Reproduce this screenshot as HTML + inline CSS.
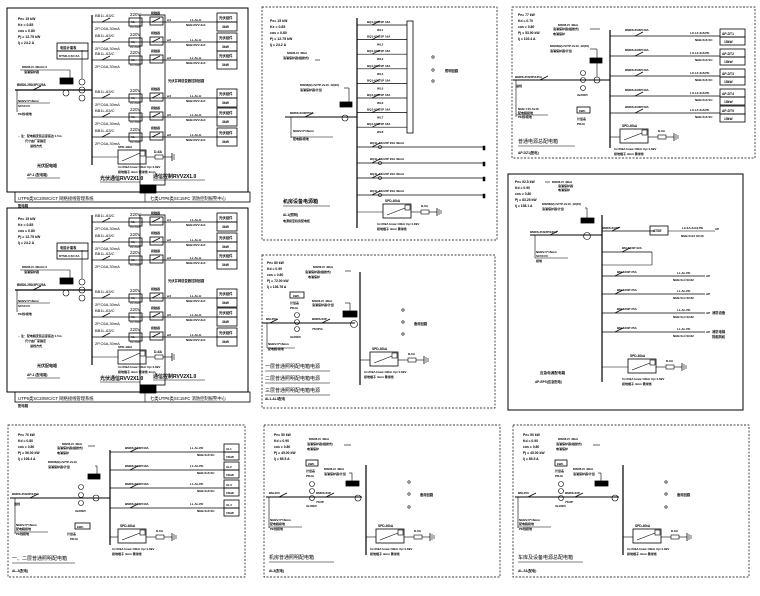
<!DOCTYPE html>
<html><head><meta charset="utf-8"><style>
html,body{margin:0;padding:0;background:#fff;width:760px;height:596px;overflow:hidden}
svg text{font-family:"Liberation Sans","Noto Sans CJK SC",sans-serif;fill:#000}
</style></head><body>
<svg id="s" width="760" height="596" viewBox="0 0 760 596" xmlns="http://www.w3.org/2000/svg"></svg>
<script>
var S=document.getElementById('s'),h='';
function L(x1,y1,x2,y2,w,c){h+='<line x1="'+x1+'" y1="'+y1+'" x2="'+x2+'" y2="'+y2+'" stroke="'+(c||'#000')+'" stroke-width="'+(w||0.6)+'"/>';}
function R(x,y,w,ht,sw,d,f){h+='<rect x="'+x+'" y="'+y+'" width="'+w+'" height="'+ht+'" fill="'+(f||'none')+'" stroke="#000" stroke-width="'+(sw||0.6)+'"'+(d?' stroke-dasharray="2,1.5"':'')+'/>';}
function T(x,y,s,z,b){h+='<text x="'+x+'" y="'+y+'" font-size="'+(z||3.5)+'"'+(b?' font-weight="bold"':'')+'>'+s+'</text>';}
function C(x,y,r){h+='<circle cx="'+x+'" cy="'+y+'" r="'+(r||3)+'" fill="none" stroke="#000" stroke-width="0.6"/>';}
function BR(x,y){L(x,y,x+8,y-4,0.7);}
function stats(x,y){var a=['Pe= 15 kW','Kx = 0.85','cos = 0.80','Pj = 12.75 kW','Ij = 24.2 A'];for(var i=0;i<5;i++)T(x,y+i*6,a[i],3.5,1);}
function spd(x,y,bx){L(bx,y,x,y);R(x,y-8,28,14,0.8);L(x+4,y+3,x+22,y-4);R(x+22,y-7,5,5);L(x+28,y,x+38,y);R(x+38,y-2,8,4);L(x+46,y,x+54,y);L(x+54,y-4,x+54,y+4,0.8);L(x+56,y-3,x+56,y+3);L(x+58,y-2,x+58,y+2);T(x+2,y-10,'SPD-40kA',3.2,1);T(x+38,y-5,'D-6A',3,1);T(x-6,y+13,'In=20kA Imax=40kA Up=1.8kV',3,1);T(x-6,y+18,'接地端子 4mm 黄绿线',3,1);}
function panelA(oy){
 R(7,8+oy,241,184,1);
 stats(18,20+oy);
 R(57,43+oy,31,8,0.8);R(57,51+oy,31,8,0.8);T(60,49+oy,'电能计量表',3.3,1);T(59,57+oy,'DTSD-0.5/1.5A',3,1);
 L(15,90+oy,92,90+oy,1.2);BR(33,90+oy);T(17,86+oy,'BMD6-250/3P/125A',3.2,1);
 L(20,70+oy,70,70+oy);L(70,70+oy,70,78+oy);T(22,68+oy,'MSD6-IV-40kA/1.5',3,1);T(24,73+oy,'浪涌保护器',3,1);
 R(60,78+oy,13,6,0.8,0,'#000');C(66,93+oy,3);C(82,82+oy,3);C(82,90+oy,3);C(82,98+oy,3);L(82,50+oy,82,79+oy);
 L(17,90+oy,17,112+oy);L(17,103+oy,50,103+oy);T(18,102+oy,'NHBV-5*16mm',3,1);T(18,107+oy,'SC50 FC',3,1);T(18,115+oy,'PE线/接地',3,1);
 T(18,137+oy,'-- 注：配电箱安装高度底边 1.5m',3,1);T(25,142+oy,'尺寸由厂家确定',3,1);T(30,147+oy,'进线方式',3,1);
 T(37,167+oy,'光伏配电箱',4,1);T(27,176+oy,'AP-1 (配电箱)',3.3,1);L(27,178+oy,60,178+oy);
 L(92,15+oy,92,165+oy,1.2);R(140,15+oy,25,170+oy<0?0:170,0.8);
 var ys=[22,42,60,98,117,137];
 for(var i=0;i<6;i++){var y=ys[i]+oy;L(92,y,217,y,0.8);BR(102,y);T(95,y-5,'BB1L-63/C',4);T(95,y+8,'2P,C6A,30mA',4);
  R(129,y-4,13,8,0.8);T(130,y-6,'220V',4.5);T(131,y+1,'ML',3);T(130,y+6,'10~63A',3);
  R(150,y-5,13,8,0.8);T(151,y-8,'接触器',3,1);BR(152,y);T(167,y-1,'w'+(i+1),3,1);
  T(190,y-1,'LL.AL.E',3,1);T(186,y+4,'NHB-RVV-3x4',3,1);R(217,y-9,20,9,0.8);R(217,y,20,9,0.8);T(219,y-3,'光伏组件',3.4,1);T(222,y+6,'3kW',3.4,1);}
 T(168,82+oy,'光伏并网逆变器控制回路',3.3,1);
 R(118,150+oy,28,14,0.8);L(122,161+oy,140,153+oy);R(140,151+oy,5,5);T(118,148+oy,'SPD-40kA',3,1);
 L(92,157+oy,118,157+oy);L(146,157+oy,155,157+oy);R(155,155+oy,8,4);L(163,157+oy,172,157+oy);L(172,153+oy,172,161+oy,0.8);L(174,154+oy,174,160+oy);T(154,153+oy,'D-6A',3.4,1);
 T(118,168+oy,'In=20kA Imax=40kA Up=1.8kV',3,1);T(118,173+oy,'接地端子 4mm 黄绿线 4mm',3,1);
 T(100,180+oy,'光伏通信RVV2X1.0',5,1);L(100,182+oy,140,182+oy);T(153,178+oy,'通信控制RVV2X1.0',5,1);L(153,180+oy,205,180+oy);
 R(140,185+oy,16,8,0.8,0,'#000');
 R(15,192+oy,235,10,0.8);L(145,192+oy,145,202+oy);T(18,200+oy,'UTP6类SC20WC/CT 网络接线管理系统',4.3);T(150,200+oy,'七类UTP6类SC15FC 消防控制报警中心',4.3);T(18,207+oy,'配电箱',3.4,1);
}
panelA(0);panelA(200);
// Panel B
R(262,7,235,233,0.7,1);stats(270,22);
T(287,54,'MSD6-IV 40kA',3,1);T(283,59,'浪涌保护器(插拔式)',3,1);L(315,60,320,60);
T(300,86,'MSD6(B)-IV/TP-2x10 ,12(20)',3,1);T(300,91,'浪涌保护器/计量',3,1);L(344,88,349,88);L(349,88,349,102);R(340,102,12,5,0.8,0,'#000');
L(285,117,357,117,1);BR(305,117);C(345,118,3);T(290,114,'BMD6-63/3P/50A',3,1);L(291,117,291,138);L(291,137,333,137);T(293,132,'NHBV-5*16mm',3,1);T(293,140,'配电箱/接地',3,1);
L(357,18,357,228,1.2);
for(var i=0;i<8;i++){var y=25+i*14.6;L(357,y,407,y,0.7);BR(372,y);T(367,y-2,'BQ1-63C/1P 16A',3,1);T(377,y+6,'WL'+(i+1),3,1);}
R(407,21,6,112,0.8);T(409,60,'',3);
C(433,57,1.2);C(433,70,1.2);C(433,81,1.2);T(445,72,'照明回路',3.3,1);
var yb=[147,163,178,195];for(var i=0;i<4;i++){L(357,yb[i],485,yb[i],0.7);BR(372,yb[i]);C(380,yb[i],1.5);T(370,yb[i]-3,'BQ1L-63C/2P 20A 30mA',3,1);R(483,yb[i]-1,2,4,0.5,0,'#000');}
spd(383,212,357);
T(283,203,'机房设备电源箱',5,1);L(283,206,330,206);T(283,216,'AL1(照明)',3.3,1);T(283,222,'电源接至机房配电柜',3,1);
// Panel C
R(262,255,233,153,0.7,1);
var st2=['Pe= 80 kW','Kd = 0.90','cos = 0.80','Pj = 72.00 kW','Ij = 136.76 A'];for(var i=0;i<5;i++)T(267,264+i*6,st2[i],3.4,1);
T(313,268,'MSD6-IV 40kA',3,1);T(305,273,'浪涌保护器(插拔式)',3,1);T(308,278,'电涌保护',3,1);L(345,271,351,271);
R(290,292,14,6,0.8,0,'#fff');T(293,297,'kWh',3,1);T(290,304,'计量表',3,1);T(290,309,'PDJA',3,1);C(297,315,2.5);C(297,322,2.5);C(297,329,2.5);T(290,338,'3x200/5',3,1);
T(312,302,'MSD6-IV 40kA',3,1);T(312,306,'浪涌保护器/计量',3,1);L(345,303,350,303);L(350,303,350,311);R(343,311,14,6,0.8,0,'#000');
L(262,323,355,323,1);BR(270,323);T(266,320,'BM-250',3,1);BR(322,323);T(312,320,'BMD6-63P',3,1);T(312,330,'75/3P/A',3,1);C(354,324,3.5);
L(267,323,267,348);L(267,348,295,348);T(268,345,'NHBV-5*16mm',3,1);T(268,350,'配电箱/接地',3,1);
L(360,272,360,385,1.2);C(403,310,1.2);C(403,322,1.2);C(403,334,1.2);T(414,325,'备用回路',3.3,1);
spd(370,360,360);
var tc=['一层普通照明配电箱电源','二层普通照明配电箱电源','三层普通照明配电箱电源'];for(var i=0;i<3;i++){T(265,368+i*12,tc[i],5);L(265,371+i*12,330,371+i*12);}
T(265,400,'AL1-AL3配电',3.3,1);
// Panel D
R(512,7,243,151,0.7,1);var st3=['Pe= 77 kW','Kd = 0.70','cos = 0.80','Pj = 53.90 kW','Ij = 102.4 A'];for(var i=0;i<5;i++)T(518,16+i*6,st3[i],3.4,1);
T(558,26,'MSD6-IV 40kA',3,1);T(553,30,'浪涌保护器(插拔式)',3,1);T(553,35,'电涌保护',3,1);L(590,29,600,29);
T(550,47,'MSD6(B)-IV/TP-2x10 ,12(20)',3,1);T(550,52,'浪涌保护器/计量',3,1);L(590,49,597,49);L(597,49,597,58);R(590,58,12,5,0.8,0,'#000');
L(513,80,610,80,1);BR(540,80);T(515,78,'BMD6-250/3P/125A',3,1);T(516,87,'进线',3,1);C(583,73,2.5);C(583,80,2.5);C(583,88,2.5);C(597,80,3);L(597,63,597,77);T(577,96,'3x200/5',3,1);
L(516,80,516,117);L(516,115,548,115);T(518,110,'NHB-YJV-5x16',3,1);T(518,114,'配电箱接地',3,1);T(518,118,'PE线/接地',3,1);R(577,107,13,6,0.8);T(579,112,'kWh',3,1);T(577,120,'计量表',3,1);T(577,125,'PDJA',3,1);
L(610,30,610,148,1.2);
var yd=[36,56,76,96,113];var nd=['AP-DT1','AP-DT2','AP-DT3','AP-DT4','AP-DT5'];
for(var i=0;i<5;i++){var y=yd[i];L(610,y,720,y,0.7);BR(635,y);T(625,y-5,'BMD6-63/3P/40A',3,1);T(690,y-2,'LU.LZ-3x6.PE',3,1);T(695,y+5,'NHB-5x6 SC',3,1);R(720,y-7,25,8,0.8);R(720,y+1,25,8,0.8);T(722,y-1,nd[i],3.3,1);T(724,y+7,'15kW',3.3,1);}
spd(620,137,610);T(518,143,'普通电源总配电箱',5);L(518,146,575,146);T(518,154,'AP-DZ1(配电)',3.3,1);
// Panel E
R(508,174,235,236,1);var st4=['Pe= 92.5 kW','Kd = 0.90','cos = 0.80','Pj = 83.25 kW','Ij = 158.1 A'];for(var i=0;i<5;i++)T(515,183+i*6,st4[i],3.4,1);
T(552,183,'MSD6-IV 40kA',3,1);T(558,187,'浪涌保护器',3,1);T(558,191,'电涌保护',3,1);L(545,182,550,182);
T(542,205,'MSD6(B)-IV/TP-2x10 ,12(20)',3,1);T(542,210,'浪涌保护器/计量',3,1);L(585,208,587,208);L(587,208,587,218);R(581,218,13,5,0.8,0,'#000');
L(530,235,602,235,1);BR(550,235);T(530,233,'BMD6-250/3P/160A',3,1);C(587,236,3.5);L(535,235,535,258);L(535,258,568,258);T(536,253,'NHBV-5*16mm',3,1);T(536,257,'SC50 FC',3,1);T(536,262,'接地',3,1);
L(602,215,602,382,1.2);
L(602,231,655,231,0.7);BR(612,231);T(602,229,'BMD6-63/3P',3,1);R(650,226,18,9,0.8);T(653,232,'ATSE',3.3,1);L(668,231,715,231);T(682,229,'LZ-ZA-5x10.PE',3,1);T(681,237,'NHB-5x10 SC40',3,1);T(715,230,'AP',3,1);
L(602,252,652,252,0.7);L(652,252,652,265);L(602,265,652,265);BR(622,252);T(622,249,'BM-63/3P 32A',3,1);
var ye=[276,294,313,332];for(var i=0;i<4;i++){var y=ye[i];L(602,y,705,y,0.7);BR(615,y);T(617,y-3,'BM-63/3P 25A',3,1);T(677,y-2,'LL.AL.PE',3,1);T(673,y+5,'NHB-5x4 SC32',3,1);T(706,y+1,'AP',3,1);}
T(712,314,'消防设备',3.3,1);T(712,333,'消防电梯',3.3,1);T(712,338,'排烟风机',3.3,1);
spd(628,367,602);T(540,374,'应急电源配电箱',3.6,1);T(535,383,'AP-EPS(应急配电)',3.2,1);
// bottom panels
R(8,425,237,152,0.7,1);var st5=['Pe= 70 kW','Kd = 0.80','cos = 0.80','Pj = 56.00 kW','Ij = 106.4 A'];for(var i=0;i<5;i++)T(18,436+i*6,st5[i],3.4,1);
T(62,445,'MSD6-IV 40kA',3,1);T(57,449,'浪涌保护器(插拔式)',3,1);T(57,454,'电涌保护',3,1);L(88,446,95,446);
T(48,463,'MSD6(B)-IV/TP-2x10',3,1);T(48,468,'浪涌保护器/计量',3,1);L(95,466,97,466);L(97,466,97,474);R(88,474,12,5,0.8,0,'#000');
L(10,498,110,498,1);BR(30,498);T(12,495,'BMD6-250/3P/125A',3,1);T(14,505,'进线',3,1);C(81,487,2.5);C(81,495,2.5);C(81,503,2.5);C(96,498,3);T(75,512,'3x200/5',3,1);
L(15,498,15,534);L(15,532,48,532);T(16,526,'NHBV-5*16mm',3,1);T(16,530,'配电箱接地',3,1);T(16,535,'PE线接地',3,1);R(75,523,15,6,0.8);T(77,528,'kWh',3,1);T(67,535,'计量表',3,1);T(70,540,'PDJA',3,1);
L(110,450,110,545,1.2);var yf=[452,470,488,508];
for(var i=0;i<4;i++){var y=yf[i];L(110,y,224,y,0.7);BR(130,y);T(125,y-3,'BMD6-63/3P/40A',3,1);T(190,y-3,'LL.AL.PE',3,1);T(197,y+4,'NHB-5x6 SC',3,1);R(224,y-8,15,8,0.8);R(224,y,15,8,0.8);T(226,y-2,'AL'+(i+1),3,1);T(226,y+6,'15kW',3,1);}
spd(118,537,110);T(12,560,'一、二层普通照明配电箱',5);L(12,563,75,563);T(12,572,'AL-2(配电)',3.3,1);
function bp(x0,t,t2,ins){R(x0,425,236,152,0.7,1);var st=['Pe= 50 kW','Kd = 0.90','cos = 0.80','Pj = 45.00 kW','Ij = 85.5 A'];for(var i=0;i<5;i++)T(x0+10,436+i*6,st[i],3.4,1);
 T(x0+45,440,'MSD6-IV 40kA',3,1);T(x0+43,445,'浪涌保护器(插拔式)',3,1);T(x0+43,450,'电涌保护',3,1);L(x0+80,445,x0+87,445);
 R(x0+42,460,12,6,0.8);T(x0+44,465,'kWh',3,1);T(x0+42,472,'计量表',3,1);T(x0+42,477,'PDJA',3,1);C(x0+48,484,2.5);C(x0+48,491,2.5);C(x0+48,498,2.5);T(x0+42,507,'3x100/5',3,1);
 T(x0+60,470,'MSD6-IV 40kA',3,1);T(x0+60,475,'浪涌保护器/计量',3,1);L(x0+85,473,x0+88,473);L(x0+88,473,x0+88,481);R(x0+82,481,13,5,0.8,0,'#000');
 L(x0+2,497,x0+ins,497,1);BR(x0+15,497);T(x0+5,494,'BM-250',3,1);BR(x0+62,497);T(x0+52,494,'BMD6-63P',3,1);T(x0+52,503,'75/3P',3,1);C(x0+ins-4,498,3);
 L(x0+5,497,x0+5,528);L(x0+5,527,x0+38,527);T(x0+6,521,'NHBV-5*16mm',3,1);T(x0+6,525,'配电箱接地',3,1);T(x0+6,530,'PE线接地',3,1);
 L(x0+ins+4,465,x0+ins+4,555,1.2);C(x0+ins+47,482,1.2);C(x0+ins+47,494,1.2);C(x0+ins+47,507,1.2);T(x0+ins+58,496,'备用回路',3.3,1);
 spd(x0+ins+14,537,x0+ins+4);T(x0+5,559,t,5);L(x0+5,562,x0+70,562);T(x0+5,572,t2,3.3,1);}
bp(264,'机房普通照明配电箱','AL3(配电)',98);bp(513,'车库及设备电源总配电箱','AL-S1(配电)',106);
S.innerHTML=h;
</script>
</body></html>
